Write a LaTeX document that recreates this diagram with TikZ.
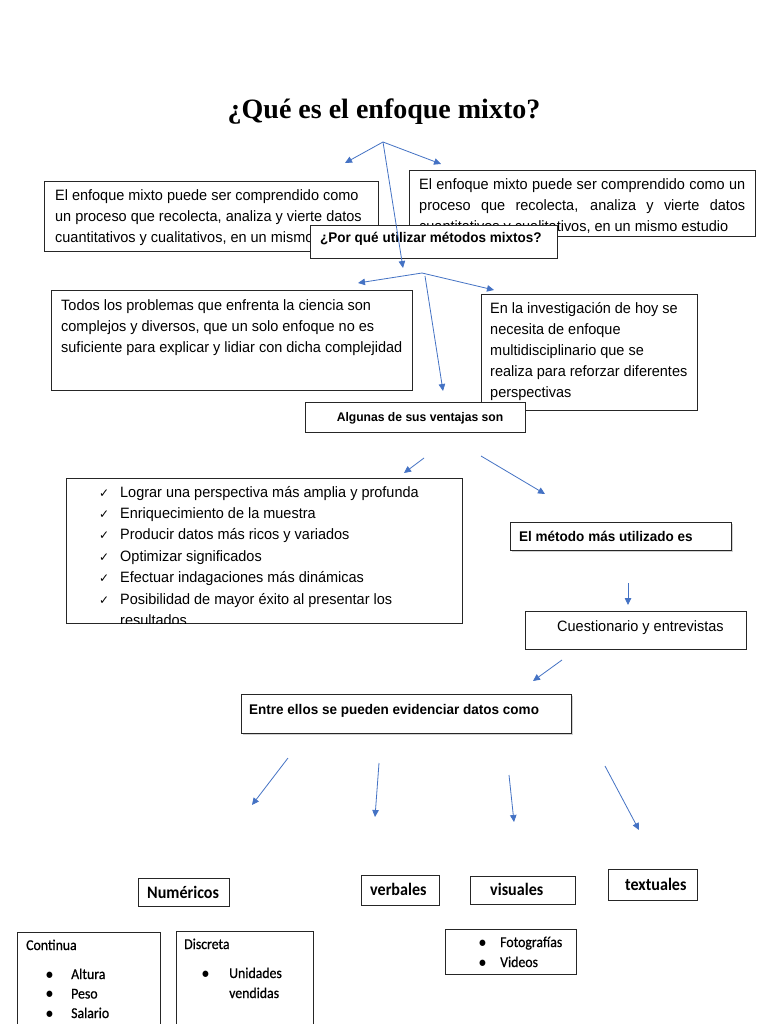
\documentclass[tikz,border=0pt]{standalone}
\usepackage{fontspec}
\usetikzlibrary{arrows.meta,shadows}
\newfontfamily\bodyf{Liberation Sans}[FakeStretch=0.965]
\newfontfamily\bodybf{Liberation Sans Bold}[FakeStretch=0.965]
\newfontfamily\smallbf{Liberation Sans Bold}[FakeStretch=0.97]
\newfontfamily\titlef{Liberation Serif Bold}
\newfontfamily\calf{Carlito}[FakeStretch=0.92,FakeBold=0.6]
\newfontfamily\calbf{Carlito Bold}[FakeStretch=0.92]
\newfontfamily\symf{DejaVu Sans}
\definecolor{arrowblue}{RGB}{68,114,196}
\begin{document}
\begin{tikzpicture}[x=1pt,y=-1pt,
  box/.style={draw=black!85, line width=0.9pt, fill=white, anchor=north west, inner sep=0pt},
  shbox/.style={box, drop shadow={opacity=0.35, shadow xshift=1.2pt, shadow yshift=-1.2pt}},
  conn/.style={draw=arrowblue, line width=0.8pt, -{Triangle[width=6.5pt,length=7pt]}},
  txt/.style={anchor=base west, inner sep=0pt},
  body/.style={txt, font=\bodyf\fontsize{15}{21}\selectfont},
  bodyb/.style={txt, font=\bodybf\fontsize{14}{16}\selectfont},
  cal/.style={txt, font=\calf\fontsize{15}{18}\selectfont},
  calb/.style={txt, font=\calbf\fontsize{17.5}{20}\selectfont},
  chk/.style={txt, font=\symf\fontsize{12}{14}\selectfont},
  bul/.style={txt, font=\calbf\fontsize{15}{18}\selectfont}]
\clip (0,0) rectangle (768,1024);
\fill[white] (0,0) rectangle (768,1024);

% title
\node[txt, anchor=base, font=\titlef\fontsize{28}{32}\selectfont] (title) at (384,119) {¿Qué es el enfoque mixto?};

% box A
\node[box, minimum width=334pt, minimum height=70pt] (boxA) at (44,181) {};
\node[body] (a1) at (55,201) {El enfoque mixto puede ser comprendido como};
\node[body] (a2) at (55,222) {un proceso que recolecta, analiza y vierte datos};
\node[body] (a3) at (55,243) {cuantitativos y cualitativos, en un mismo};

% box B
\node[box, minimum width=346pt, minimum height=66pt] (boxB) at (409,170) {};
\node[body] (b1) at (419,190) {\makebox[326pt][s]{El enfoque mixto puede ser comprendido como un}};
\node[body] (b2) at (419,211) {\makebox[326pt][s]{proceso que recolecta, analiza y vierte datos}};
\node[body] (b3) at (419,232) {cuantitativos y cualitativos, en un mismo estudio};

% box C
\node[box, minimum width=247pt, minimum height=33pt] (boxC) at (310,225) {};
\node[bodyb] (c1) at (320,243) {¿Por qué utilizar métodos mixtos?};

% box D
\node[box, minimum width=361pt, minimum height=100pt] (boxD) at (51,290) {};
\node[body] (d1) at (61,310) {Todos los problemas que enfrenta la ciencia son};
\node[body] (d2) at (61,331) {complejos y diversos, que un solo enfoque no es};
\node[body] (d3) at (61,352) {suficiente para explicar y lidiar con dicha complejidad};

% box E
\node[box, minimum width=216pt, minimum height=116pt] (boxE) at (481,294) {};
\node[body] (e1) at (490,313) {En la investigación de hoy se};
\node[body] (e2) at (490,334) {necesita de enfoque};
\node[body] (e3) at (490,355) {multidisciplinario que se};
\node[body] (e4) at (490,376) {realiza para reforzar diferentes};
\node[body] (e5) at (490,397) {perspectivas};

% box F
\node[box, minimum width=220pt, minimum height=30pt] (boxF) at (305,402) {};
\node[txt, anchor=base, font=\smallbf\fontsize{12.5}{14}\selectfont] (f1) at (420,421) {Algunas de sus ventajas son};

% box G
\node[box, minimum width=396pt, minimum height=145pt] (boxG) at (66,478) {};
\begin{scope}
\clip (66,478) rectangle (462,623);
\foreach \t [count=\i from 0] in {Lograr una perspectiva más amplia y profunda,Enriquecimiento de la muestra,Producir datos más ricos y variados,Optimizar significados,Efectuar indagaciones más dinámicas,Posibilidad de mayor éxito al presentar los}{
  \node[chk] (g\i c) at (99,497+21.4*\i) {✓};
  \node[body] (g\i) at (120,497+21.4*\i) {\t};
}
\node[body] (g6) at (120,625.4) {resultados};
\end{scope}

% box H
\node[shbox, minimum width=221pt, minimum height=28pt] (boxH) at (510,522) {};
\node[bodyb] (h1) at (519,541) {El método más utilizado es};

% box I
\node[box, minimum width=221pt, minimum height=38pt] (boxI) at (525,611) {};
\node[body] (i1) at (557,631) {Cuestionario y entrevistas};

% box J
\node[shbox, minimum width=330pt, minimum height=39pt] (boxJ) at (241,694) {};
\node[bodyb] (j1) at (249,714) {Entre ellos se pueden evidenciar datos como};

% bottom boxes
\node[box, minimum width=91pt, minimum height=28pt] (boxK) at (138,878) {};
\node[calb] (k1) at (147,898) {Numéricos};
\node[box, minimum width=78pt, minimum height=30pt] (boxL) at (361,875) {};
\node[calb] (l1) at (370,895) {verbales};
\node[box, minimum width=105pt, minimum height=28pt] (boxM) at (470,876) {};
\node[calb] (m1) at (490,895) {visuales};
\node[box, minimum width=89pt, minimum height=31pt] (boxN) at (608,869) {};
\node[calb] (n1) at (625,890) {textuales};

\node[box, minimum width=143pt, minimum height=110pt] (boxO) at (17,932) {};
\node[cal] (o0) at (26,950) {Continua};
\foreach \t [count=\i from 1] in {Altura,Peso,Salario}{
  \node[bul] (o\i b) at (46,959.5+19.5*\i) {•};
  \node[cal] (o\i) at (71,959.5+19.5*\i) {\t};
}
\node[box, minimum width=137pt, minimum height=110pt] (boxP) at (176,931) {};
\node[cal] (p0) at (184,949) {Discreta};
\node[bul] (p1b) at (202,978) {•};
\node[cal] (p1) at (229,978) {Unidades};
\node[cal] (p2) at (229,998) {vendidas};

\node[box, minimum width=131pt, minimum height=45pt] (boxQ) at (445,929) {};
\node[bul] (q1b) at (479,947) {•};
\node[cal] (q1) at (500,947) {Fotografías};
\node[bul] (q2b) at (479,967) {•};
\node[cal] (q2) at (500,967) {Videos};

% connectors
\coordinate (s1) at (383,142);
\coordinate (t1) at (345,163);
\coordinate (t2) at (441,164);
\coordinate (t3) at (403,268);
\coordinate (s2) at (422,273);
\coordinate (t4) at (358,283);
\coordinate (t5) at (494,290);
\coordinate (s3) at (425,276);
\coordinate (t6) at (443,391);
\coordinate (s7) at (424,458); \coordinate (t7) at (404,473);
\coordinate (s8) at (481,456); \coordinate (t8) at (545,494);
\coordinate (s9) at (628,583); \coordinate (t9) at (628,605);
\coordinate (s10) at (562,660); \coordinate (t10) at (533,681);
\coordinate (s11) at (288,758); \coordinate (t11) at (252,805);
\coordinate (s12) at (379,763); \coordinate (t12) at (375,817);
\coordinate (s13) at (509,775); \coordinate (t13) at (514,822);
\coordinate (s14) at (605,766); \coordinate (t14) at (639,830);
\draw[conn] (s1) -- (t1);
\draw[conn] (s1) -- (t2);
\draw[conn] (s1) -- (t3);
\draw[conn] (s2) -- (t4);
\draw[conn] (s2) -- (t5);
\draw[conn] (s3) -- (t6);
\draw[conn] (s7) -- (t7);
\draw[conn] (s8) -- (t8);
\draw[conn] (s9) -- (t9);
\draw[conn] (s10) -- (t10);
\draw[conn] (s11) -- (t11);
\draw[conn] (s12) -- (t12);
\draw[conn] (s13) -- (t13);
\draw[conn] (s14) -- (t14);
\end{tikzpicture}
\end{document}
